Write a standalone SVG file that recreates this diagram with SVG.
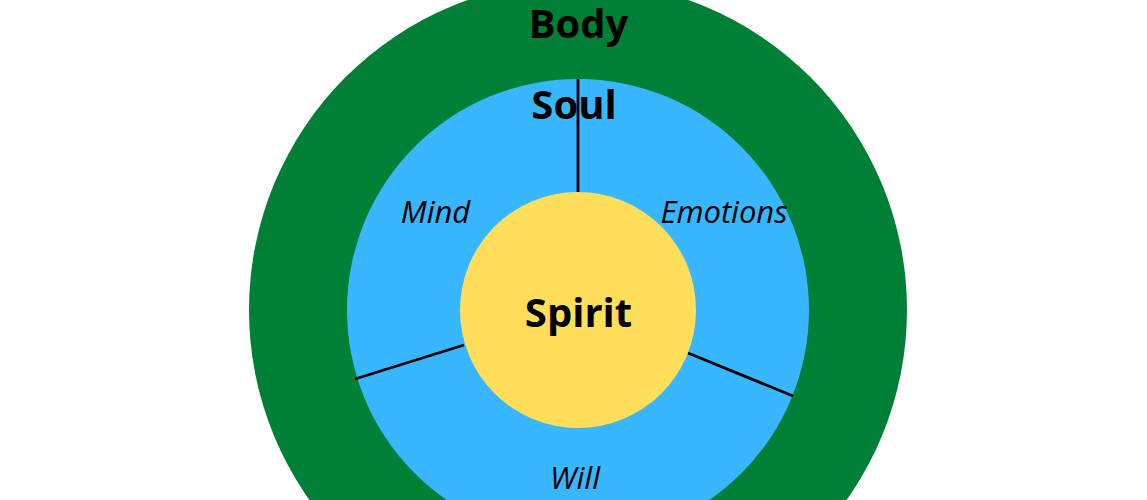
<svg xmlns="http://www.w3.org/2000/svg" width="1147" height="500" viewBox="0 0 1147 500">
<style>
.title{font-family:"Open Sans","Liberation Sans",sans-serif;font-weight:bold;font-size:40px;fill:#000;text-anchor:middle}
.lbl{font-family:"Open Sans","Liberation Sans",sans-serif;font-style:italic;font-size:31px;fill:#000;text-anchor:middle}
.div{stroke:#000;stroke-width:2.8;fill:none}
</style>
<rect width="1147" height="500" fill="#fff"/>
<g id="body"><circle cx="578" cy="310" r="329" fill="#007f37"/><text class="title" x="578.5" y="38">Body</text></g>
<g id="soul"><circle cx="578" cy="310" r="231" fill="#38b6ff"/><text class="title" x="574" y="119">Soul</text></g>
<g id="connectors">
<line class="div" x1="578" y1="79" x2="578" y2="193"/>
<line class="div" x1="355" y1="379" x2="464" y2="345"/>
<line class="div" x1="688" y1="353" x2="793" y2="396"/>
</g>
<g id="spirit"><circle cx="578" cy="310" r="118" fill="#ffde59"/><text class="title" x="578.5" y="327">Spirit</text></g>
<g id="mind"><text class="lbl" x="435.5" y="223">Mind</text></g>
<g id="emotions"><text class="lbl" x="724" y="223">Emotions</text></g>
<g id="will"><text class="lbl" x="575" y="489">Will</text></g>
</svg>
